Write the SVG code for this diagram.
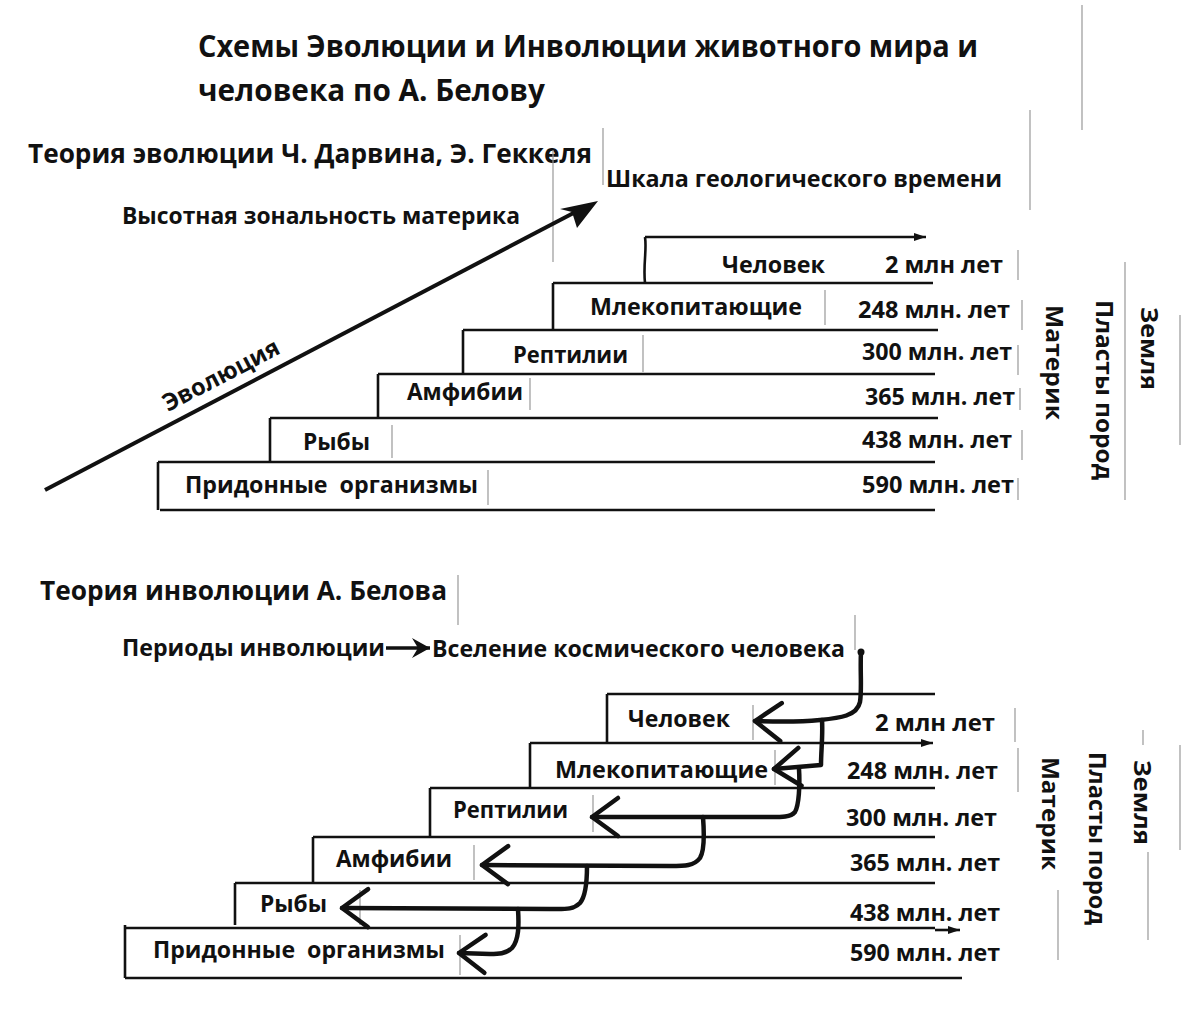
<svg xmlns="http://www.w3.org/2000/svg" width="1192" height="1017" viewBox="0 0 1192 1017">
<style>
text{font-family:"Open Sans","Noto Sans","Liberation Sans",sans-serif;font-weight:700;fill:#111;white-space:pre}
.t1{font-size:31px}
.t2{font-size:26px}
.t3{font-size:24px}
.lb{font-size:24px}
.st{stroke:#111;stroke-width:2.6;fill:none}
.fn{stroke:#999;stroke-width:1.2;fill:none}
.inv{stroke:#111;stroke-width:4.5;fill:none;stroke-linecap:round;stroke-linejoin:round}
</style>
<defs>
<marker id="chev" markerUnits="userSpaceOnUse" viewBox="-30 -24 34 48" markerWidth="34" markerHeight="48" refX="0" refY="0" orient="auto">
<path d="M-26,-19 L0,0 L-26,19" stroke="#111" stroke-width="4.5" fill="none" stroke-linecap="round" stroke-linejoin="round"/>
</marker>
<marker id="sm" markerUnits="userSpaceOnUse" viewBox="-14 -6 16 12" markerWidth="16" markerHeight="12" refX="0" refY="0" orient="auto">
<path d="M-12,-4 L0,0 L-12,4 Z" fill="#111"/>
</marker>
<marker id="big" markerUnits="userSpaceOnUse" viewBox="-20 -12 22 24" markerWidth="22" markerHeight="24" refX="0" refY="0" orient="auto">
<path d="M-18,-10 L0,0 L-18,10 L-12,0 Z" fill="#111"/>
</marker>
</defs>
<rect width="1192" height="1017" fill="#fff"/>

<g id="titles">
<text class="t1" x="198" y="57" textLength="780" lengthAdjust="spacingAndGlyphs">Схемы Эволюции и Инволюции животного мира и</text>
<text class="t1" x="198" y="101" textLength="347" lengthAdjust="spacingAndGlyphs">человека по А. Белову</text>
<text class="t2" x="28" y="163" textLength="564" lengthAdjust="spacingAndGlyphs">Теория эволюции Ч. Дарвина, Э. Геккеля</text>
<text class="t3" x="606" y="187" textLength="396" lengthAdjust="spacingAndGlyphs">Шкала геологического времени</text>
<text class="lb" x="122" y="224" textLength="398" lengthAdjust="spacingAndGlyphs">Высотная зональность материка</text>
<text class="t2" x="40" y="600" textLength="407" lengthAdjust="spacingAndGlyphs">Теория инволюции А. Белова</text>
<text class="lb" x="122" y="656" textLength="263" lengthAdjust="spacingAndGlyphs">Периоды инволюции</text>
<text class="lb" x="432" y="657" textLength="413" lengthAdjust="spacingAndGlyphs">Вселение космического человека</text>
</g>

<g id="faint-lines">
<path class="fn" d="M1082,5 V130 M1030,110 V210 M603,128 V185 M553,150 V262 M1018,250 V280 M1022,300 V330 M1018,345 V375 M1020,388 V410 M1022,430 V460 M1018,478 V500 M1125,262 V500 M1180,315 V445 M458,575 V625 M855,615 V650 M1015,708 V742 M1018,748 V792 M1143,730 V745 M1180,745 V850 M1148,852 V940 M1058,890 V960"/>
<path class="fn" d="M488,470 V505 M392,425 V458 M530,378 V410 M643,335 V372 M825,290 V325 M753,705 V740 M775,750 V785 M593,795 V832 M474,845 V880 M360,890 V925 M460,935 V975"/>
</g>

<g id="evolution-steps">
<g id="e-pridonnye"><path class="st" d="M158,462 V510 M160,510 H935 M158,462 H935"/><text class="lb" x="185" y="493" textLength="293" lengthAdjust="spacingAndGlyphs">Придонные  организмы</text><text class="lb" x="862" y="493" textLength="152" lengthAdjust="spacingAndGlyphs">590 млн. лет</text></g>
<g id="e-ryby"><path class="st" d="M270,418 V462 M270,418 H938"/><text class="lb" x="303" y="450" textLength="67" lengthAdjust="spacingAndGlyphs">Рыбы</text><text class="lb" x="862" y="448" textLength="150" lengthAdjust="spacingAndGlyphs">438 млн. лет</text></g>
<g id="e-amfibii"><path class="st" d="M378,374 V418 M378,374 H935"/><text class="lb" x="407" y="400" textLength="116" lengthAdjust="spacingAndGlyphs">Амфибии</text><text class="lb" x="865" y="405" textLength="150" lengthAdjust="spacingAndGlyphs">365 млн. лет</text></g>
<g id="e-reptilii"><path class="st" d="M463,330 V374 M463,330 H938"/><text class="lb" x="513" y="363" textLength="115" lengthAdjust="spacingAndGlyphs">Рептилии</text><text class="lb" x="862" y="360" textLength="150" lengthAdjust="spacingAndGlyphs">300 млн. лет</text></g>
<g id="e-mlekopit"><path class="st" d="M553,283 V330 M553,283 H933"/><text class="lb" x="590" y="315" textLength="212" lengthAdjust="spacingAndGlyphs">Млекопитающие</text><text class="lb" x="858" y="318" textLength="152" lengthAdjust="spacingAndGlyphs">248 млн. лет</text></g>
<g id="e-chelovek"><path class="st" d="M645,237 C647,250 643,265 645,283"/><path class="st" d="M645,237 H926" marker-end="url(#sm)"/><text class="lb" x="722" y="273" textLength="103" lengthAdjust="spacingAndGlyphs">Человек</text><text class="lb" x="885" y="273" textLength="118" lengthAdjust="spacingAndGlyphs">2 млн лет</text></g>
</g>

<g id="evolution-arrow">
<line x1="45" y1="490" x2="585" y2="207" stroke="#111" stroke-width="4"/>
<polygon points="598,201 560,209 572,212 577,228" fill="#111"/>
<text class="lb" transform="translate(168,412) rotate(-27.5)" textLength="128" lengthAdjust="spacingAndGlyphs">Эволюция</text>
</g>

<g id="involution-steps">
<g id="i-pridonnye"><path class="st" d="M125,925 V978 M125,978 H962 M125,928 H935"/><path class="st" d="M935,930 H960" marker-end="url(#sm)"/><text class="lb" x="153" y="958" textLength="292" lengthAdjust="spacingAndGlyphs">Придонные  организмы</text><text class="lb" x="850" y="961" textLength="150" lengthAdjust="spacingAndGlyphs">590 млн. лет</text></g>
<g id="i-ryby"><path class="st" d="M235,883 V925 M235,883 H935"/><text class="lb" x="260" y="912" textLength="67" lengthAdjust="spacingAndGlyphs">Рыбы</text><text class="lb" x="850" y="921" textLength="150" lengthAdjust="spacingAndGlyphs">438 млн. лет</text></g>
<g id="i-amfibii"><path class="st" d="M313,837 V883 M313,837 H935"/><text class="lb" x="336" y="867" textLength="116" lengthAdjust="spacingAndGlyphs">Амфибии</text><text class="lb" x="850" y="871" textLength="150" lengthAdjust="spacingAndGlyphs">365 млн. лет</text></g>
<g id="i-reptilii"><path class="st" d="M430,788 V837 M430,788 H935"/><text class="lb" x="453" y="818" textLength="115" lengthAdjust="spacingAndGlyphs">Рептилии</text><text class="lb" x="846" y="826" textLength="151" lengthAdjust="spacingAndGlyphs">300 млн. лет</text></g>
<g id="i-mlekopit"><path class="st" d="M530,743 V788"/><path class="st" d="M530,743 H933" marker-end="url(#sm)"/><text class="lb" x="555" y="778" textLength="213" lengthAdjust="spacingAndGlyphs">Млекопитающие</text><text class="lb" x="847" y="779" textLength="151" lengthAdjust="spacingAndGlyphs">248 млн. лет</text></g>
<g id="i-chelovek"><path class="st" d="M607,694 V743 M607,694 H935"/><text class="lb" x="628" y="727" textLength="102" lengthAdjust="spacingAndGlyphs">Человек</text><text class="lb" x="875" y="731" textLength="120" lengthAdjust="spacingAndGlyphs">2 млн лет</text></g>
</g>

<g id="connectors">
<path d="M386,648 H430" stroke="#111" stroke-width="3.5" fill="none" marker-end="url(#big)"/>
<circle cx="861" cy="652" r="3.5" fill="#111"/>
<path class="inv" d="M861,652 C860,670 862,690 860,702 C857,716 840,718 820,720 C800,722 780,722 755,721" marker-end="url(#chev)"/>
<path class="inv" d="M822,720 C823,735 821,752 821,765 L774,769" marker-end="url(#chev)"/>
<path class="inv" d="M799,769 C800,785 799,805 795,812 C790,818 780,817 760,817 L592,817" marker-end="url(#chev)"/>
<path class="inv" d="M703,817 C704,830 705,850 700,858 C694,866 685,866 670,866 L482,865" marker-end="url(#chev)"/>
<path class="inv" d="M587,866 C587,880 586,896 580,903 C573,910 565,909 550,909 L342,908" marker-end="url(#chev)"/>
<path class="inv" d="M518,909 C519,925 519,940 512,948 C506,954 498,954 490,954 L459,953" marker-end="url(#chev)"/>
</g>

<g id="side-labels">
<text class="lb" transform="translate(1046,305) rotate(90)" textLength="115" lengthAdjust="spacingAndGlyphs">Материк</text>
<text class="lb" transform="translate(1096,300) rotate(90)" textLength="180" lengthAdjust="spacingAndGlyphs">Пласты пород</text>
<text class="lb" transform="translate(1141,307) rotate(90)" textLength="83" lengthAdjust="spacingAndGlyphs">Земля</text>
<text class="lb" transform="translate(1042,757) rotate(90)" textLength="113" lengthAdjust="spacingAndGlyphs">Материк</text>
<text class="lb" transform="translate(1089,752) rotate(90)" textLength="173" lengthAdjust="spacingAndGlyphs">Пласты пород</text>
<text class="lb" transform="translate(1134,760) rotate(90)" textLength="85" lengthAdjust="spacingAndGlyphs">Земля</text>
</g>
</svg>
